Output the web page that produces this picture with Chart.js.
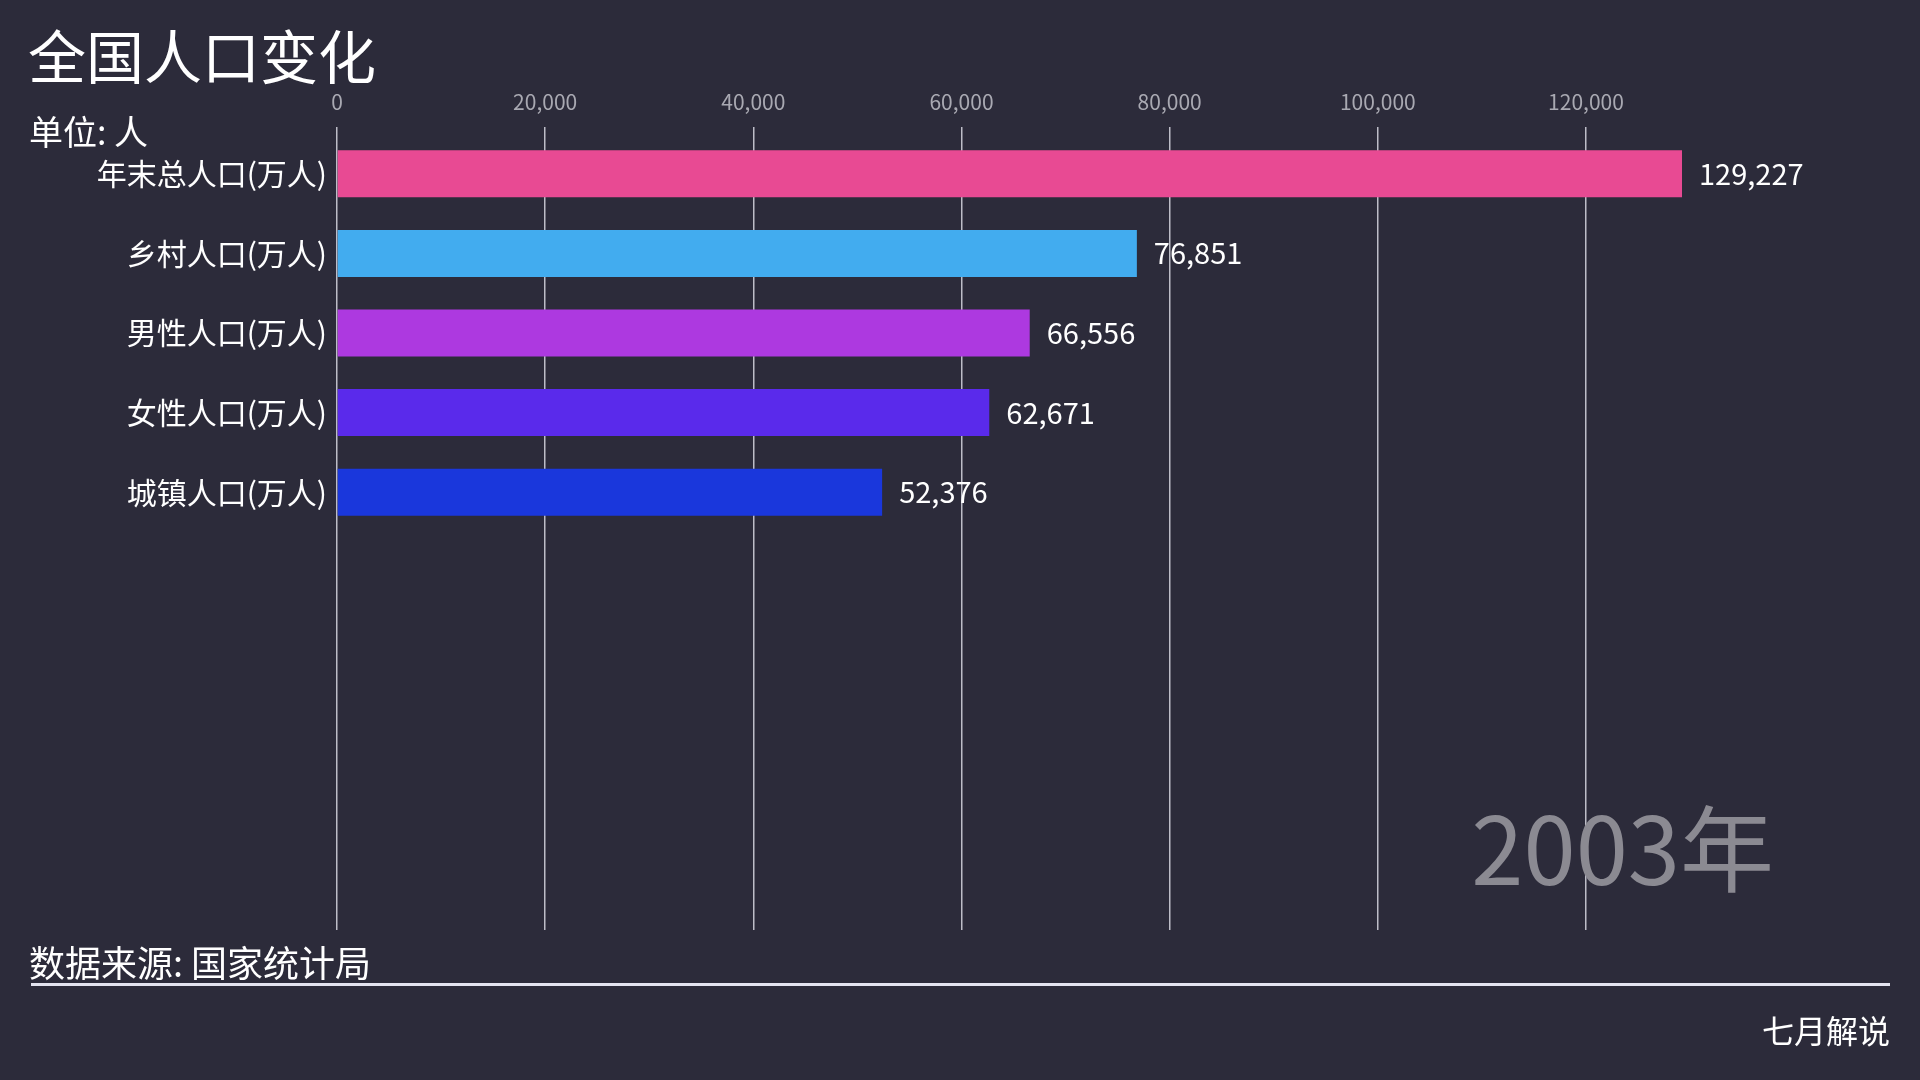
<!DOCTYPE html>
<html lang="zh">
<head>
    <meta charset="UTF-8">
    <title>全国人口变化</title>
    <script src="https://cdn.jsdelivr.net/npm/chart.js"></script>
    <style>
        body {
            margin: 0;
            background-color: #2c2b3a;
            font-family: "Noto Sans CJK SC", sans-serif;
            color: #ffffff;
        }
        .lienzo {
            position: relative;
            width: 1920px;
            height: 1080px;
            overflow: hidden;
        }
        #grafica {
            position: absolute;
            left: 0;
            top: 0;
        }
        .texto {
            position: absolute;
            line-height: 1;
            white-space: nowrap;
        }
        .titulo { left: 28px; top: 25px; font-size: 58px; }
        .unidad { left: 29px; top: 114px; font-size: 34px; }
        .fuente { left: 29px; top: 943px; font-size: 36px; }
        .linea {
            position: absolute;
            left: 31px;
            top: 983px;
            width: 1859px;
            height: 3px;
            background-color: #e4e4f0;
        }
        .firma { right: 30px; top: 1013px; font-size: 32px; }
        .anio { right: 146px; top: 797px; font-size: 94px; color: #8b8a92; }
    </style>
</head>
<body>
    <div class="lienzo">
        <canvas id="grafica" width="1920" height="1080"></canvas>
        <div class="texto titulo">全国人口变化</div>
        <div class="texto unidad">单位: 人</div>
        <div class="texto anio" id="anio"></div>
        <div class="texto fuente">数据来源: 国家统计局</div>
        <div class="linea"></div>
        <div class="texto firma">七月解说</div>
    </div>

    <script>
        const anio = '2003年';
        const categorias = ['年末总人口(万人)', '乡村人口(万人)', '男性人口(万人)', '女性人口(万人)', '城镇人口(万人)'];
        const valores = [129227, 76851, 66556, 62671, 52376];
        const colores = ['#e84a93', '#42acef', '#ad39e0', '#5a2aeb', '#1a37dc'];
        const pasoEje = 20000;
        const huecos = 10; // filas del eje, solo las primeras tienen barra

        document.getElementById('anio').textContent = anio;

        const etiquetas = categorias.concat(Array(huecos - categorias.length).fill(''));

        const etiquetasValor = {
            id: 'etiquetasValor',
            afterDatasetsDraw(chart) {
                const ctx = chart.ctx;
                const meta = chart.getDatasetMeta(0);
                ctx.save();
                ctx.fillStyle = '#ffffff';
                ctx.font = '29px "Noto Sans CJK SC", sans-serif';
                ctx.textAlign = 'left';
                ctx.textBaseline = 'middle';
                meta.data.forEach((barra, i) => {
                    if (valores[i] == null) return;
                    ctx.fillText(valores[i].toLocaleString('en-US'), barra.x + 17, barra.y);
                });
                ctx.restore();
            }
        };

        new Chart(document.getElementById('grafica').getContext('2d'), {
            type: 'bar',
            data: {
                labels: etiquetas,
                datasets: [{
                    data: valores,
                    backgroundColor: colores,
                    borderWidth: 0,
                    categoryPercentage: 1,
                    barPercentage: 0.59
                }]
            },
            options: {
                indexAxis: 'y',
                responsive: false,
                animation: false,
                devicePixelRatio: 1,
                layout: {
                    padding: { left: 0, right: 238, top: 80, bottom: 150 }
                },
                plugins: {
                    legend: { display: false },
                    tooltip: { enabled: false }
                },
                scales: {
                    x: {
                        position: 'top',
                        min: 0,
                        border: { display: false },
                        grid: {
                            color: 'rgba(215, 215, 225, 0.85)',
                            lineWidth: 1.5,
                            tickLength: 7
                        },
                        ticks: {
                            stepSize: pasoEje,
                            padding: 12,
                            color: '#a9a9b2',
                            font: { family: '"Noto Sans CJK SC", sans-serif', size: 21 },
                            callback: v => v.toLocaleString('en-US')
                        },
                        // el eje termina en el valor mayor, sin marca extra
                        afterBuildTicks: s => {
                            s.max = Math.max(...valores);
                            s.ticks = s.ticks.filter(t => t.value <= s.max);
                        },
                        afterFit: s => { s.height = 54; }
                    },
                    y: {
                        border: { display: false },
                        grid: { display: false, drawTicks: false },
                        ticks: {
                            padding: 10,
                            color: '#ffffff',
                            font: { family: '"Noto Sans CJK SC", sans-serif', size: 30 }
                        },
                        afterFit: s => { s.width = 337; }
                    }
                }
            },
            plugins: [etiquetasValor]
        });
    </script>
</body>
</html>
